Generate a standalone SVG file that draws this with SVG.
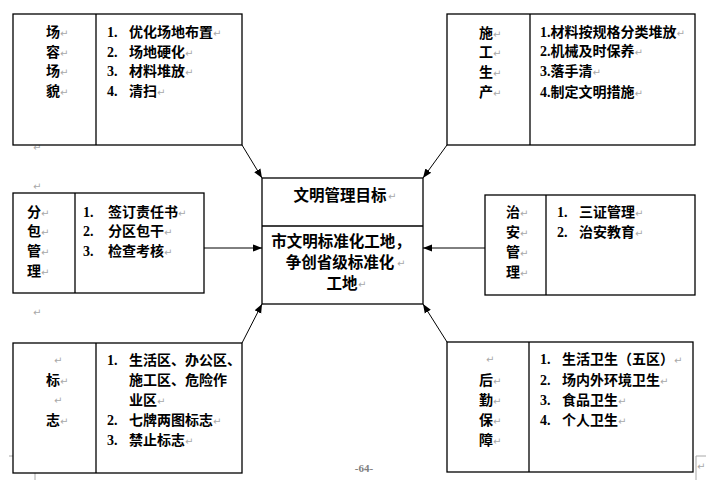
<svg xmlns="http://www.w3.org/2000/svg" width="706" height="490" viewBox="0 0 706 490">
<defs>
<style>
.box{fill:#fff;stroke:#000;stroke-width:1.3}
.div{stroke:#000;stroke-width:1.3}
.t{font-family:"Noto Sans CJK SC","Liberation Serif",sans-serif;font-size:14px;font-weight:bold;fill:#000}
.c{font-family:"Noto Sans CJK SC","Liberation Serif",sans-serif;font-size:15.5px;font-weight:bold;fill:#000}
.n{font-family:"Liberation Serif",serif;font-size:14px;font-weight:bold;fill:#000}
.pm{font-family:"DejaVu Sans",sans-serif;font-size:10px;font-weight:normal;fill:#a8a8a8}
.gl{stroke:#a8a8a8;stroke-width:1;fill:none}
.con{stroke:#000;stroke-width:1;fill:none}
</style>
<marker id="ah" viewBox="0 0 10 10" refX="10" refY="5" markerWidth="9" markerHeight="9" markerUnits="userSpaceOnUse" orient="auto">
<path d="M0,1 L10,5 L0,9 z" fill="#000"/>
</marker>
</defs>
<rect width="706" height="490" fill="#fff"/>

<!-- stray page marks -->
<g id="marks">
<text class="pm" x="33" y="151">↵</text>
<text class="pm" x="33" y="190">↵</text>
<text class="pm" x="33" y="316">↵</text>
<line class="gl" x1="9" y1="456" x2="13" y2="456"/>
<line class="gl" x1="35" y1="473" x2="35" y2="480"/>
<path class="gl" d="M706,456 H696 V480"/>
<text class="pm" x="697" y="470">↵</text>
<text x="364" y="472" text-anchor="middle" font-family="Liberation Serif,serif" font-size="11" font-weight="bold" fill="#808080">-64-</text>
</g>

<g id="connectors">
<line class="con" x1="242" y1="145" x2="262" y2="178" marker-end="url(#ah)"/>
<line class="con" x1="447" y1="145" x2="423" y2="178" marker-end="url(#ah)"/>
<line class="con" x1="204" y1="248" x2="262" y2="248" marker-end="url(#ah)"/>
<line class="con" x1="485" y1="248" x2="423" y2="248" marker-end="url(#ah)"/>
<line class="con" x1="242" y1="343" x2="262" y2="304" marker-end="url(#ah)"/>
<line class="con" x1="447" y1="342" x2="423" y2="304" marker-end="url(#ah)"/>
</g>

<g id="center">
<rect class="box" x="262" y="178" width="161" height="126"/>
<line class="div" x1="262" y1="226" x2="423" y2="226"/>
<text class="c" x="340" y="201" text-anchor="middle">文明管理目标</text>
<text class="pm" x="388" y="200">↵</text>
<text class="c" x="341" y="247" text-anchor="middle">市文明标准化工地，</text>
<text class="c" x="340" y="268" text-anchor="middle">争创省级标准化</text>
<text class="pm" x="397" y="267">↵</text>
<text class="c" x="342" y="289" text-anchor="middle">工地</text>
<text class="pm" x="358" y="288">↵</text>
</g>

<g id="changrong">
<rect class="box" x="13" y="14" width="229" height="131"/>
<line class="div" x1="96" y1="14" x2="96" y2="145"/>
<text class="t" x="46" y="37">场<tspan class="pm">↵</tspan></text>
<text class="t" x="46" y="57">容<tspan class="pm">↵</tspan></text>
<text class="t" x="46" y="76">场<tspan class="pm">↵</tspan></text>
<text class="t" x="46" y="96">貌<tspan class="pm">↵</tspan></text>
<text class="n" x="107" y="37">1.</text><text class="t" x="129" y="37">优化场地布置<tspan class="pm">↵</tspan></text>
<text class="n" x="107" y="57">2.</text><text class="t" x="129" y="57">场地硬化<tspan class="pm">↵</tspan></text>
<text class="n" x="107" y="76">3.</text><text class="t" x="129" y="76">材料堆放<tspan class="pm">↵</tspan></text>
<text class="n" x="107" y="96">4.</text><text class="t" x="129" y="96">清扫<tspan class="pm">↵</tspan></text>
</g>

<g id="shigong">
<rect class="box" x="447" y="14" width="248" height="131"/>
<line class="div" x1="530" y1="14" x2="530" y2="145"/>
<text class="t" x="479" y="38">施<tspan class="pm">↵</tspan></text>
<text class="t" x="479" y="57">工<tspan class="pm">↵</tspan></text>
<text class="t" x="479" y="77">生<tspan class="pm">↵</tspan></text>
<text class="t" x="479" y="97">产<tspan class="pm">↵</tspan></text>
<text class="t" x="540" y="37"><tspan class="n">1.</tspan>材料按规格分类堆放<tspan class="pm">↵</tspan></text>
<text class="t" x="540" y="56"><tspan class="n">2.</tspan>机械及时保养<tspan class="pm">↵</tspan></text>
<text class="t" x="540" y="76"><tspan class="n">3.</tspan>落手清<tspan class="pm">↵</tspan></text>
<text class="t" x="540" y="97"><tspan class="n">4.</tspan>制定文明措施<tspan class="pm">↵</tspan></text>
</g>

<g id="fenbao">
<rect class="box" x="13" y="193" width="191" height="100"/>
<line class="div" x1="75" y1="193" x2="75" y2="293"/>
<text class="t" x="27" y="217">分<tspan class="pm">↵</tspan></text>
<text class="t" x="27" y="236">包<tspan class="pm">↵</tspan></text>
<text class="t" x="27" y="256">管<tspan class="pm">↵</tspan></text>
<text class="t" x="27" y="276">理<tspan class="pm">↵</tspan></text>
<text class="n" x="83" y="217">1.</text><text class="t" x="108" y="217">签订责任书<tspan class="pm">↵</tspan></text>
<text class="n" x="83" y="236">2.</text><text class="t" x="108" y="236">分区包干<tspan class="pm">↵</tspan></text>
<text class="n" x="83" y="256">3.</text><text class="t" x="108" y="256">检查考核<tspan class="pm">↵</tspan></text>
</g>

<g id="zhian">
<rect class="box" x="485" y="195" width="210" height="100"/>
<line class="div" x1="546" y1="195" x2="546" y2="295"/>
<text class="t" x="506" y="217">治<tspan class="pm">↵</tspan></text>
<text class="t" x="506" y="237">安<tspan class="pm">↵</tspan></text>
<text class="t" x="506" y="257">管<tspan class="pm">↵</tspan></text>
<text class="t" x="506" y="277">理<tspan class="pm">↵</tspan></text>
<text class="n" x="557" y="217">1.</text><text class="t" x="579" y="217">三证管理<tspan class="pm">↵</tspan></text>
<text class="n" x="557" y="237">2.</text><text class="t" x="579" y="237">治安教育<tspan class="pm">↵</tspan></text>
</g>

<g id="biaozhi">
<rect class="box" x="13" y="343" width="229" height="130"/>
<line class="div" x1="96" y1="343" x2="96" y2="473"/>
<text class="pm" x="54" y="364">↵</text>
<text class="t" x="46" y="385">标<tspan class="pm">↵</tspan></text>
<text class="pm" x="54" y="404">↵</text>
<text class="t" x="46" y="425">志<tspan class="pm">↵</tspan></text>
<text class="n" x="107" y="365">1.</text><text class="t" x="129" y="365">生活区、办公区、</text>
<text class="t" x="129" y="385">施工区、危险作</text>
<text class="t" x="129" y="405">业区<tspan class="pm">↵</tspan></text>
<text class="n" x="107" y="425">2.</text><text class="t" x="129" y="425">七牌两图标志<tspan class="pm">↵</tspan></text>
<text class="n" x="107" y="445">3.</text><text class="t" x="129" y="445">禁止标志<tspan class="pm">↵</tspan></text>
</g>

<g id="houqin">
<rect class="box" x="447" y="342" width="246" height="130"/>
<line class="div" x1="529" y1="342" x2="529" y2="472"/>
<text class="pm" x="486" y="363">↵</text>
<text class="t" x="479" y="385">后<tspan class="pm">↵</tspan></text>
<text class="t" x="479" y="405">勤<tspan class="pm">↵</tspan></text>
<text class="t" x="479" y="425">保<tspan class="pm">↵</tspan></text>
<text class="t" x="479" y="445">障<tspan class="pm">↵</tspan></text>
<text class="n" x="540" y="364">1.</text><text class="t" x="562" y="364">生活卫生（五区）<tspan class="pm">↵</tspan></text>
<text class="n" x="540" y="385">2.</text><text class="t" x="562" y="385">场内外环境卫生<tspan class="pm">↵</tspan></text>
<text class="n" x="540" y="405">3.</text><text class="t" x="562" y="405">食品卫生<tspan class="pm">↵</tspan></text>
<text class="n" x="540" y="425">4.</text><text class="t" x="562" y="425">个人卫生<tspan class="pm">↵</tspan></text>
</g>
</svg>
